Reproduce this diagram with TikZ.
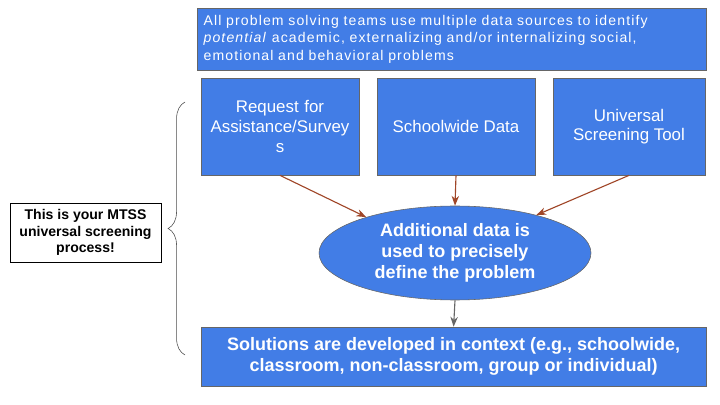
\documentclass[tikz,border=0pt]{standalone}
\usepackage{fontspec}
\setmainfont{Liberation Sans}
\usetikzlibrary{arrows.meta,positioning,shapes.geometric,decorations.pathreplacing}
\definecolor{boxblue}{RGB}{66,125,230}
\definecolor{arrbrown}{RGB}{160,70,40}

\begin{document}
\begin{tikzpicture}[
    bluebox/.style={draw=black!60, fill=boxblue, text=white, align=center, inner sep=2pt},
    brownarrow/.style={-{Stealth[length=7pt]}, thick, arrbrown},
    grayarrow/.style={-{Stealth[length=7pt]}, thick, black!60}
]
\useasboundingbox (0,0) rectangle (18,10.125);

% ==== Header ====
\node[bluebox, minimum width=12.725cm, minimum height=1.55cm, align=left, text width=12.4cm, font=\addfontfeature{LetterSpace=8}\fontsize{10}{12.5}\selectfont] (head) at (11.29,9.15)
    {All problem solving teams use multiple data sources to identify\\
     \textit{potential} academic, externalizing and/or internalizing social,\\
     emotional and behavioral problems};

% ==== Data sources ====
\node[bluebox, minimum width=3.95cm, minimum height=2.425cm, text width=3.8cm, font=\fontsize{12}{14}\selectfont] (request) at (7.0,6.96)
    {Request for\\ Assistance/Survey\\ s};
\node[bluebox, minimum width=3.95cm, minimum height=2.425cm, font=\fontsize{12}{14}\selectfont] (school) at (11.4,6.96) {Schoolwide Data};
\node[bluebox, minimum width=3.8cm, minimum height=2.425cm, font=\fontsize{12}{14}\selectfont] (screen) at (15.725,6.96) {Universal\\ Screening Tool};

% ==== Additional data ====
\node[bluebox, ellipse, minimum width=6.8cm, minimum height=2.35cm, inner sep=0pt, font=\bfseries\fontsize{12.8}{15}\selectfont] (extra) at (11.375,3.8)
    {Additional data is\\ used to precisely\\ define the problem};

% ==== Solutions ====
\node[bluebox, minimum width=12.625cm, minimum height=1.475cm, font=\bfseries\fontsize{12.8}{15}\selectfont] (solve) at (11.34,1.2125)
    {Solutions are developed in context (e.g., schoolwide,\\ classroom, non-classroom, group or individual)};

% ==== Note ====
\node[draw, fill=white, minimum width=3.775cm, minimum height=1.475cm, align=center, font=\bfseries\fontsize{10}{11.5}\selectfont] (note) at (2.1375,4.3125)
    {This is your MTSS\\ universal screening\\ process!};

% Brace
\draw[black!70, decorate, decoration={brace, amplitude=12pt}] (4.625,1.25) -- (4.625,7.575);

% Arrows
\draw[brownarrow] (request.south) -- (extra.158);
\draw[brownarrow] (school.south) -- (extra.north);
\draw[brownarrow] (screen.south) -- (extra.25);
\draw[grayarrow] (extra.south) -- (solve.north);

\end{tikzpicture}
\end{document}
